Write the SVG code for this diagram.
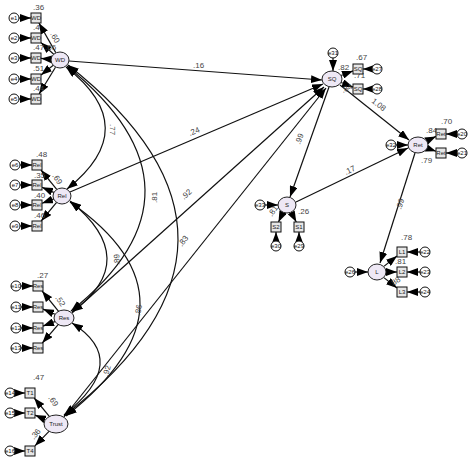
<svg xmlns="http://www.w3.org/2000/svg" width="474" height="460" viewBox="0 0 474 460">
<style>
.lat{fill:#eee8f5;stroke:#222;stroke-width:1}
.obs{fill:#e6e6e6;stroke:#111;stroke-width:1}
.err{fill:#fff;stroke:#111;stroke-width:1}
.ln{stroke:#111;stroke-width:1.2;fill:none}
.t{font-family:"Liberation Sans",Arial,sans-serif;fill:#333}
.nl{font-size:6px;text-anchor:middle;dominant-baseline:central;fill:#222}
.el{font-size:6px;text-anchor:middle;dominant-baseline:central;fill:#111}
.lb{font-size:8px;fill:#444}
</style>
<defs>
<marker id="ah" markerUnits="userSpaceOnUse" markerWidth="11" markerHeight="8" refX="11" refY="4" orient="auto-start-reverse">
<path d="M0,0 L11,4 L0,8 z" fill="#000"/>
</marker>
</defs>
<rect width="474" height="460" fill="#fff"/>

<g id="connectors">
<!-- structural paths -->
<path class="ln" d="M69,61 L322,80" marker-end="url(#ah)"/>
<path class="ln" d="M70,192 L323,84" marker-end="url(#ah)"/>
<path class="ln" d="M72,313 L324,87" marker-end="url(#ah)"/>
<path class="ln" d="M64,417 L326,88" marker-end="url(#ah)"/>
<path class="ln" d="M340,85 L409,140" marker-end="url(#ah)"/>
<path class="ln" d="M329,87 L290,197" marker-end="url(#ah)"/>
<path class="ln" d="M296,202 L408,148" marker-end="url(#ah)"/>
<path class="ln" d="M415,153 L380,263" marker-end="url(#ah)"/>
<!-- covariances -->
<path class="ln" d="M66,67 Q144,128 67,189" marker-start="url(#ah)" marker-end="url(#ah)"/>
<path class="ln" d="M67,66 Q221,191 71,311" marker-start="url(#ah)" marker-end="url(#ah)"/>
<path class="ln" d="M68,65 Q290,240 64,416" marker-start="url(#ah)" marker-end="url(#ah)"/>
<path class="ln" d="M70,201 Q143,260 72,312" marker-start="url(#ah)" marker-end="url(#ah)"/>
<path class="ln" d="M70,202 Q212,301 66,416" marker-start="url(#ah)" marker-end="url(#ah)"/>
<path class="ln" d="M72,323 Q132,361 64,415" marker-start="url(#ah)" marker-end="url(#ah)"/>
<!-- WD loadings -->
<path class="ln" d="M55.8,52.6 L38.9,23" marker-end="url(#ah)"/>
<path class="ln" d="M53.7,54.3 L41,42.6" marker-end="url(#ah)"/>
<path class="ln" d="M51.5,59.3 L41,58.4" marker-end="url(#ah)"/>
<path class="ln" d="M53.3,65.3 L41,75" marker-end="url(#ah)"/>
<path class="ln" d="M55.5,67.2 L39.1,94" marker-end="url(#ah)"/>
<!-- Rel loadings -->
<path class="ln" d="M56.7,189.4 L41,170" marker-end="url(#ah)"/>
<path class="ln" d="M54.2,192.6 L42,187.2" marker-end="url(#ah)"/>
<path class="ln" d="M54,198.9 L42,203.2" marker-end="url(#ah)"/>
<path class="ln" d="M56.6,202.4 L41.2,221" marker-end="url(#ah)"/>
<!-- Res loadings -->
<path class="ln" d="M58.6,311.4 L42.1,291" marker-end="url(#ah)"/>
<path class="ln" d="M56.2,314.7 L43,309.1" marker-end="url(#ah)"/>
<path class="ln" d="M56.1,321.1 L43,326.1" marker-end="url(#ah)"/>
<path class="ln" d="M58.4,324.4 L42.3,343" marker-end="url(#ah)"/>
<!-- Trust loadings -->
<path class="ln" d="M49.3,416.4 L34.2,398" marker-end="url(#ah)"/>
<path class="ln" d="M45,419.4 L35,415.1" marker-end="url(#ah)"/>
<path class="ln" d="M49,431.3 L35,445.8" marker-end="url(#ah)"/>
<!-- SQ, Ret, S, L loadings -->
<path class="ln" d="M341,75.5 L353,70.9" marker-end="url(#ah)"/>
<path class="ln" d="M341,82.5 L353,87.1" marker-end="url(#ah)"/>
<path class="ln" d="M427,140.7 L436,136.4" marker-end="url(#ah)"/>
<path class="ln" d="M427.5,148.3 L436,151.3" marker-end="url(#ah)"/>
<path class="ln" d="M283,212.2 L278.5,222" marker-end="url(#ah)"/>
<path class="ln" d="M291,212 L296.3,222" marker-end="url(#ah)"/>
<path class="ln" d="M383.9,266.4 L397,256" marker-end="url(#ah)"/>
<path class="ln" d="M386,272 L397,272" marker-end="url(#ah)"/>
<path class="ln" d="M383.9,277.6 L397,288" marker-end="url(#ah)"/>
<!-- error arrows -->
<path class="ln" d="M19,18 L31,18" marker-end="url(#ah)"/>
<path class="ln" d="M19,38 L31,38" marker-end="url(#ah)"/>
<path class="ln" d="M19,58 L31,58" marker-end="url(#ah)"/>
<path class="ln" d="M19,79 L31,79" marker-end="url(#ah)"/>
<path class="ln" d="M19,99 L31,99" marker-end="url(#ah)"/>
<path class="ln" d="M20,165 L32,165" marker-end="url(#ah)"/>
<path class="ln" d="M20,185 L32,185" marker-end="url(#ah)"/>
<path class="ln" d="M20,205 L32,205" marker-end="url(#ah)"/>
<path class="ln" d="M20,226 L32,226" marker-end="url(#ah)"/>
<path class="ln" d="M21,286 L33,286" marker-end="url(#ah)"/>
<path class="ln" d="M21,307 L33,307" marker-end="url(#ah)"/>
<path class="ln" d="M21,328 L33,328" marker-end="url(#ah)"/>
<path class="ln" d="M21,348 L33,348" marker-end="url(#ah)"/>
<path class="ln" d="M15,393 L25,393" marker-end="url(#ah)"/>
<path class="ln" d="M15,413 L25,413" marker-end="url(#ah)"/>
<path class="ln" d="M15,451 L25,451" marker-end="url(#ah)"/>
<path class="ln" d="M372,69 L363,69" marker-end="url(#ah)"/>
<path class="ln" d="M372,89 L363,89" marker-end="url(#ah)"/>
<path class="ln" d="M333,58 L333,71" marker-end="url(#ah)"/>
<path class="ln" d="M457,134 L446,134" marker-end="url(#ah)"/>
<path class="ln" d="M457,153 L446,153" marker-end="url(#ah)"/>
<path class="ln" d="M396,145 L408,145" marker-end="url(#ah)"/>
<path class="ln" d="M276,241 L276,232" marker-end="url(#ah)"/>
<path class="ln" d="M299,241 L299,232" marker-end="url(#ah)"/>
<path class="ln" d="M265,205 L278,205" marker-end="url(#ah)"/>
<path class="ln" d="M420,252 L407,252" marker-end="url(#ah)"/>
<path class="ln" d="M420,272 L407,272" marker-end="url(#ah)"/>
<path class="ln" d="M420,292 L407,292" marker-end="url(#ah)"/>
<path class="ln" d="M355,272 L368,272" marker-end="url(#ah)"/>
</g>

<g id="path-labels" class="t lb">
<text x="193" y="68">.16</text>
<text x="190" y="136" transform="rotate(-23 190 136)">.24</text>
<text x="184" y="200" transform="rotate(-42 184 200)">.92</text>
<text x="182" y="247" transform="rotate(-52 182 247)">.83</text>
<text x="371" y="102" transform="rotate(38 371 102)">1.08</text>
<text x="300" y="145" transform="rotate(-70 300 145)">.99</text>
<text x="346" y="175" transform="rotate(-26 346 175)">.17</text>
<text x="401" y="210" transform="rotate(-72 401 210)">.99</text>
<text x="110" y="124" transform="rotate(90 110 124)">.77</text>
<text x="157" y="203" transform="rotate(-90 157 203)">.81</text>
<text x="120" y="265" transform="rotate(-95 120 265)">.89</text>
<text x="140" y="316" transform="rotate(-80 140 316)">.86</text>
<text x="108" y="377" transform="rotate(-75 108 377)">.92</text>
</g>

<g id="smc-labels" class="t lb">
<text x="33" y="10">.36</text>
<text x="33" y="30">.4</text>
<text x="33" y="50">.47</text>
<text x="33" y="71">.51</text>
<text x="33" y="91">.44</text>
<text x="50" y="34" transform="rotate(60 50 34)">.60</text>
<text x="45" y="50">.66</text>
<text x="36" y="157">.48</text>
<text x="52" y="176" transform="rotate(55 52 176)">.69</text>
<text x="34" y="178">.35</text>
<text x="34" y="198">.40</text>
<text x="34" y="218">.46</text>
<text x="37" y="278">.27</text>
<text x="55" y="298" transform="rotate(55 55 298)">.52</text>
<text x="33" y="380">.47</text>
<text x="48" y="398" transform="rotate(55 48 398)">.69</text>
<text x="34" y="440" transform="rotate(-50 34 440)">.36</text>
<text x="356" y="60">.67</text>
<text x="343" y="93" transform="rotate(-25 343 93)">.84</text>
<text x="354" y="78">.71</text>
<text x="338" y="70">.82</text>
<text x="441" y="124">.70</text>
<text x="426" y="133">.84</text>
<text x="421" y="163">.79</text>
<text x="401" y="240">.78</text>
<text x="395" y="264">.81</text>
<text x="392" y="287" transform="rotate(-35 392 287)">.88</text>
<text x="272" y="217" transform="rotate(-55 272 217)">.81</text>
<text x="298" y="214">.26</text>
</g>

<g id="WD"><ellipse class="lat" cx="60" cy="60" rx="9" ry="8"/><text class="t nl" x="60" y="60">WD</text></g>
<g id="Rel"><ellipse class="lat" cx="62" cy="196" rx="9" ry="8"/><text class="t nl" x="62" y="196">Rel</text></g>
<g id="Res"><ellipse class="lat" cx="64" cy="318" rx="10" ry="8"/><text class="t nl" x="64" y="318">Res</text></g>
<g id="Trust"><ellipse class="lat" cx="56" cy="424" rx="12" ry="9"/><text class="t nl" x="56" y="424">Trust</text></g>
<g id="SQ"><ellipse class="lat" cx="332" cy="79" rx="10" ry="8"/><text class="t nl" x="332" y="79">SQ</text></g>
<g id="Ret"><ellipse class="lat" cx="418" cy="145" rx="10" ry="8"/><text class="t nl" x="418" y="145">Ret</text></g>
<g id="S"><ellipse class="lat" cx="287" cy="205" rx="9" ry="8"/><text class="t nl" x="287" y="205">S</text></g>
<g id="L"><ellipse class="lat" cx="377" cy="272" rx="9" ry="8"/><text class="t nl" x="377" y="272">L</text></g>

<g id="WD-items">
<rect class="obs" x="31" y="13" width="10" height="10"/><text class="t nl" x="36" y="18">WD</text>
<rect class="obs" x="31" y="33" width="10" height="10"/><text class="t nl" x="36" y="38">WD</text>
<rect class="obs" x="31" y="53" width="10" height="10"/><text class="t nl" x="36" y="58">WD</text>
<rect class="obs" x="31" y="74" width="10" height="10"/><text class="t nl" x="36" y="79">WD</text>
<rect class="obs" x="31" y="94" width="10" height="10"/><text class="t nl" x="36" y="99">WD</text>
</g>
<g id="Rel-items">
<rect class="obs" x="32" y="160" width="10" height="10"/><text class="t nl" x="37" y="165">Rel</text>
<rect class="obs" x="32" y="180" width="10" height="10"/><text class="t nl" x="37" y="185">Rel</text>
<rect class="obs" x="32" y="200" width="10" height="10"/><text class="t nl" x="37" y="205">Rel</text>
<rect class="obs" x="32" y="221" width="10" height="10"/><text class="t nl" x="37" y="226">Rel</text>
</g>
<g id="Res-items">
<rect class="obs" x="33" y="281" width="10" height="10"/><text class="t nl" x="38" y="286">Res</text>
<rect class="obs" x="33" y="302" width="10" height="10"/><text class="t nl" x="38" y="307">Res</text>
<rect class="obs" x="33" y="323" width="10" height="10"/><text class="t nl" x="38" y="328">Res</text>
<rect class="obs" x="33" y="343" width="10" height="10"/><text class="t nl" x="38" y="348">Res</text>
</g>
<g id="Trust-items">
<rect class="obs" x="25" y="388" width="10" height="10"/><text class="t nl" x="30" y="393">T1</text>
<rect class="obs" x="25" y="408" width="10" height="10"/><text class="t nl" x="30" y="413">T2</text>
<rect class="obs" x="25" y="446" width="10" height="10"/><text class="t nl" x="30" y="451">T4</text>
</g>
<g id="SQ-items">
<rect class="obs" x="353" y="64" width="10" height="10"/><text class="t nl" x="358" y="69">SQ</text>
<rect class="obs" x="353" y="84" width="10" height="10"/><text class="t nl" x="358" y="89">SQ</text>
</g>
<g id="Ret-items">
<rect class="obs" x="436" y="129" width="10" height="10"/><text class="t nl" x="441" y="134">Ret</text>
<rect class="obs" x="436" y="148" width="10" height="10"/><text class="t nl" x="441" y="153">Ret</text>
</g>
<g id="S-items">
<rect class="obs" x="271" y="222" width="10" height="10"/><text class="t nl" x="276" y="227">S2</text>
<rect class="obs" x="294" y="222" width="10" height="10"/><text class="t nl" x="299" y="227">S1</text>
</g>
<g id="L-items">
<rect class="obs" x="397" y="247" width="10" height="10"/><text class="t nl" x="402" y="252">L1</text>
<rect class="obs" x="397" y="267" width="10" height="10"/><text class="t nl" x="402" y="272">L2</text>
<rect class="obs" x="397" y="287" width="10" height="10"/><text class="t nl" x="402" y="292">L3</text>
</g>

<g id="errors">
<circle class="err" cx="14" cy="18" r="5"/><text class="t el" x="14" y="18">e1</text>
<circle class="err" cx="14" cy="38" r="5"/><text class="t el" x="14" y="38">e2</text>
<circle class="err" cx="14" cy="58" r="5"/><text class="t el" x="14" y="58">e3</text>
<circle class="err" cx="14" cy="79" r="5"/><text class="t el" x="14" y="79">e4</text>
<circle class="err" cx="14" cy="99" r="5"/><text class="t el" x="14" y="99">e5</text>
<circle class="err" cx="15" cy="165" r="5"/><text class="t el" x="15" y="165">e6</text>
<circle class="err" cx="15" cy="185" r="5"/><text class="t el" x="15" y="185">e7</text>
<circle class="err" cx="15" cy="205" r="5"/><text class="t el" x="15" y="205">e8</text>
<circle class="err" cx="15" cy="226" r="5"/><text class="t el" x="15" y="226">e9</text>
<circle class="err" cx="16" cy="286" r="5"/><text class="t el" x="16" y="286">e10</text>
<circle class="err" cx="16" cy="307" r="5"/><text class="t el" x="16" y="307">e11</text>
<circle class="err" cx="16" cy="328" r="5"/><text class="t el" x="16" y="328">e12</text>
<circle class="err" cx="16" cy="348" r="5"/><text class="t el" x="16" y="348">e13</text>
<circle class="err" cx="10" cy="393" r="5"/><text class="t el" x="10" y="393">e14</text>
<circle class="err" cx="10" cy="413" r="5"/><text class="t el" x="10" y="413">e15</text>
<circle class="err" cx="10" cy="451" r="5"/><text class="t el" x="10" y="451">e16</text>
<circle class="err" cx="377" cy="69" r="5"/><text class="t el" x="377" y="69">e27</text>
<circle class="err" cx="377" cy="89" r="5"/><text class="t el" x="377" y="89">e28</text>
<circle class="err" cx="333" cy="53" r="5"/><text class="t el" x="333" y="53">e31</text>
<circle class="err" cx="462" cy="134" r="5"/><text class="t el" x="462" y="134">e20</text>
<circle class="err" cx="462" cy="153" r="5"/><text class="t el" x="462" y="153">e21</text>
<circle class="err" cx="391" cy="145" r="5"/><text class="t el" x="391" y="145">e32</text>
<circle class="err" cx="276" cy="246" r="5"/><text class="t el" x="276" y="246">e30</text>
<circle class="err" cx="299" cy="246" r="5"/><text class="t el" x="299" y="246">e29</text>
<circle class="err" cx="260" cy="205" r="5"/><text class="t el" x="260" y="205">e33</text>
<circle class="err" cx="425" cy="252" r="5"/><text class="t el" x="425" y="252">e22</text>
<circle class="err" cx="425" cy="272" r="5"/><text class="t el" x="425" y="272">e23</text>
<circle class="err" cx="425" cy="292" r="5"/><text class="t el" x="425" y="292">e24</text>
<circle class="err" cx="350" cy="272" r="5"/><text class="t el" x="350" y="272">e26</text>
</g>
</svg>
